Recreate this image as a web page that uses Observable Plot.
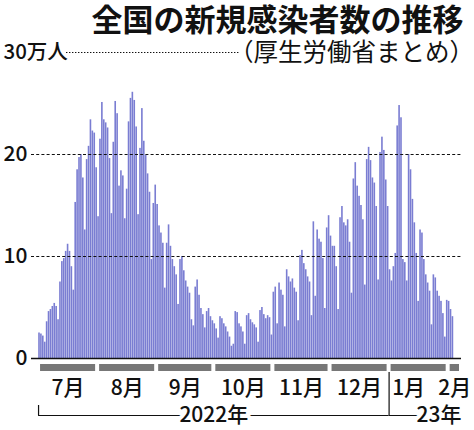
<!DOCTYPE html>
<html><head><meta charset="utf-8">
<script src="https://cdn.jsdelivr.net/npm/d3@7"></script>
<script src="https://cdn.jsdelivr.net/npm/@observablehq/plot@0.6"></script>
<style>
html,body{margin:0;padding:0;background:#fff;}
#chart svg{display:block;}
</style></head><body><div id="chart"></div>
<script>
// ---- data (万人, daily new cases) ----
const title = "全国の新規感染者数の推移";
const source = "（厚生労働省まとめ）";
const topTickLabel = "30万人";
const yTicks = [0, 10, 20];
const monthLabels = ["7月","8月","9月","10月","11月","12月","1月","2月"];
const monthStarts = ["2022-07-01","2022-08-01","2022-09-01","2022-10-01","2022-11-01","2022-12-01","2023-01-01","2023-02-01"];
const yearLabels = ["2022年","23年"];
const yearStarts = ["2022-07-01","2023-01-01"];

const jul = [2.5,2.4,2.2,1.6,3.6,4.6,4.8,5.1,5.4,5.1,3.8,7.5,9.5,9.8,10.5,11.2,10.5,9.0,6.7,15.3,18.5,19.7,20.0,17.7,12.6,19.5,20.8,23.4,22.3,22.1,18.7];
const aug = [13.9,21.5,25.1,23.4,23.1,22.6,19.6,14.2,21.2,25.2,24.0,16.9,18.4,17.9,13.7,16.6,23.2,25.5,26.1,25.3,22.7,14.1,20.6,24.5,21.3,19.9,18.1,16.3,9.7,15.2,17.0];
const sep = [15.1,13.0,12.3,11.3,6.9,11.3,13.1,11.0,9.7,9.0,8.2,5.3,9.7,10.0,8.6,7.6,7.0,6.4,3.8,3.2,7.0,7.7,6.2,4.9,4.3,3.0,4.6,4.9,4.1,3.7];
const oct = [3.4,2.9,2.0,4.1,3.9,3.4,3.1,2.6,2.1,1.2,1.4,4.6,4.5,3.4,3.1,2.6,1.4,4.2,4.4,3.8,3.5,3.3,3.0,1.6,4.7,5.0,4.3,3.9,4.2,4.0,2.3];
const nov = [6.5,7.0,3.4,7.4,6.7,6.2,3.1,8.7,8.0,7.5,7.8,6.9,6.5,3.7,10.1,10.6,9.3,8.7,8.0,7.5,4.2,13.4,6.1,12.6,11.7,11.4,9.8,4.9,12.8,14.0];
const dec = [12.0,11.0,11.0,9.0,4.8,13.8,14.9,13.3,13.0,13.6,11.4,6.4,17.6,19.2,16.9,15.9,15.0,13.6,7.2,19.5,20.7,19.4,17.7,17.2,14.9,7.7,20.2,21.7,20.4,17.5,14.9];
const jan = [8.7,7.6,9.0,10.3,22.8,24.8,23.6,9.7,9.4,7.6,20.0,18.5,15.6,13.3,10.3,5.6,12.6,12.3,9.7,8.2,7.4,6.6,3.3,8.2,7.9,6.6,6.1,5.6,4.4,2.1,5.7];
const feb = [5.6,4.8,4.1];

// ---- build tables ----
const series = [jul, aug, sep, oct, nov, dec, jan, feb];
const data = [];
series.forEach((vals, m) => {
  const s = new Date(monthStarts[m]);
  vals.forEach((v, k) => data.push({date: d3.utcDay.offset(s, k), value: v}));
});

const W = 474, H = 430, mL = 31, mR = 13, mT = 52, mB = 72;
const first = new Date(monthStarts[0]);
const xStart = new Date(+first - 3.7 * 864e5);
const xEnd = new Date("2023-02-08");
const months = monthLabels.map((label, i) => {
  const start = new Date(monthStarts[i]);
  const end = i + 1 < monthStarts.length ? new Date(monthStarts[i + 1]) : xEnd;
  return {label, start, end, mid: new Date((+start + +end) / 2)};
});
const years = yearLabels.map((label, i) => {
  const start = new Date(yearStarts[i]);
  const end = i + 1 < yearStarts.length ? new Date(yearStarts[i + 1]) : xEnd;
  return {label, start, end, mid: new Date((+start + +end) / 2)};
});
// pixel row below the frame -> y value (for decorations under the axis)
const py = p => (H - mB - p) * 30 / (H - mB - mT);

const font = '"Noto Sans CJK JP", "Noto Sans", sans-serif';
const ink = "#111";

const chart = Plot.plot({
  width: W, height: H,
  marginLeft: mL, marginRight: mR, marginTop: mT, marginBottom: mB,
  style: {fontFamily: font, background: "#fff", color: ink},
  x: {type: "utc", domain: [xStart, xEnd], axis: null},
  y: {domain: [0, 30], axis: null},
  marks: [
    Plot.rectY(data, {x1: "date", x2: d => d3.utcDay.offset(d.date, 1), y: "value",
      fill: "#7a7dd2", insetLeft: 0.15, insetRight: 0.15}),
    Plot.ruleY([10, 20], {stroke: ink, strokeWidth: 1.2, strokeDasharray: "3,2.2"}),
    Plot.ruleY([30], {stroke: ink, strokeWidth: 1.2, strokeDasharray: "1.4,1.6", insetLeft: 35, insetRight: 221}),
    Plot.ruleY([0], {stroke: ink, strokeWidth: 1.6}),
    Plot.text(yTicks, {y: d => d, text: d => String(d), frameAnchor: "left", dx: -4, lineAnchor: "middle",
      textAnchor: "end", fontSize: 21, fontWeight: 500, fill: ink}),
    Plot.text([30], {y: d => d, text: () => topTickLabel, frameAnchor: "left", dx: -28, lineAnchor: "middle",
      textAnchor: "start", fontSize: 20.5, fontWeight: 500, fill: ink}),
    Plot.text([title], {text: d => d, frameAnchor: "top-right", textAnchor: "end", lineAnchor: "middle", dx: 2, dy: -31,
      fontSize: 31, fontWeight: 700, fill: ink}),
    Plot.text([source], {text: d => d, frameAnchor: "top-right", textAnchor: "end", lineAnchor: "middle", dx: 12.5, dy: 0.5,
      fontSize: 24.5, fontWeight: 400, fill: ink}),
    Plot.rect(months, {x1: "start", x2: "end", y1: py(364), y2: py(371), insetLeft: 2, insetRight: 2, fill: "#777"}),
    Plot.text(months.filter(d => d.label !== "1月"), {x: "mid", text: "label", frameAnchor: "bottom", lineAnchor: "middle", dy: 30,
      fontSize: 21, fontWeight: 500, fill: ink}),
    Plot.text(months.filter(d => d.label === "1月"), {x: "mid", text: "label", frameAnchor: "bottom", lineAnchor: "middle", dy: 30, dx: -10,
      fontSize: 21, fontWeight: 500, fill: ink}),
    Plot.ruleY(years, {y: () => py(415), x1: "start", x2: "end", stroke: ink, strokeWidth: 1.2}),
    Plot.ruleX([years[0].start], {x: d => d, y1: py(405), y2: py(415), stroke: ink, strokeWidth: 1.2}),
    Plot.ruleX([years[1].start], {x: d => d, y1: py(372), y2: py(415), stroke: ink, strokeWidth: 1.2}),
    Plot.text([years[0]], {x: "mid", text: "label", frameAnchor: "bottom", lineAnchor: "middle", dy: 57,
      fontSize: 21, fontWeight: 500, fill: ink, stroke: "#fff", strokeWidth: 8, paintOrder: "stroke"}),
    Plot.text([years[1]], {x: "end", text: "label", frameAnchor: "bottom", lineAnchor: "middle", dy: 57, textAnchor: "end",
      fontSize: 21, fontWeight: 500, fill: ink, stroke: "#fff", strokeWidth: 8, paintOrder: "stroke"})
  ]
});
document.getElementById("chart").append(chart);
</script>
</body></html>
